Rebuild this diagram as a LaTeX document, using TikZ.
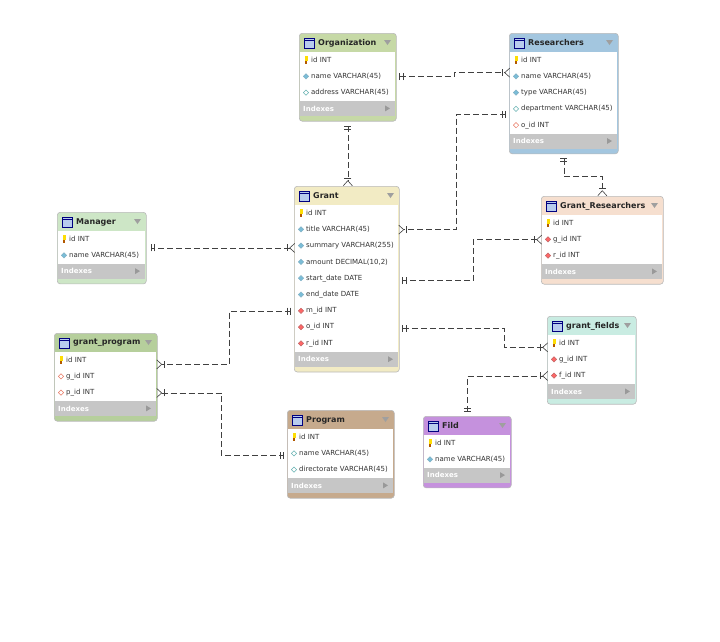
\documentclass[tikz,border=0pt]{standalone}
\usepackage{fontspec}
\setmainfont{DejaVu Sans}
\usetikzlibrary{arrows.meta,shapes.geometric,calc}
\definecolor{orgc}{HTML}{C6D9A6}
\definecolor{resc}{HTML}{A3C6DF}
\definecolor{grc}{HTML}{F2EBC4}
\definecolor{manc}{HTML}{CDE6C6}
\definecolor{grrc}{HTML}{F6DFCF}
\definecolor{gfc}{HTML}{C9ECE2}
\definecolor{gpc}{HTML}{B6CF9C}
\definecolor{prc}{HTML}{C6AA8D}
\definecolor{fic}{HTML}{C591DD}
\definecolor{linec}{HTML}{404040}
\definecolor{iconc}{HTML}{B8CCEE}
\tikzset{
  one/.tip={Bar[width=7pt,sep=2.5pt]Bar[width=7pt,sep=4pt]},
  many/.tip={Bar[width=7pt,sep=1.5pt]Straight Barb[reversed,length=5pt,width=9pt,line width=0.6pt]},
  rel/.style={draw=linec,line width=0.6pt,dash pattern=on 6pt off 3pt},
  tab/.style={draw=gray!55,rounded corners=3pt,anchor=north west,inner sep=0pt,line width=0.6pt},
  row/.style={anchor=north west,inner sep=0pt,minimum height=16.3pt},
  rtxt/.style={anchor=west,inner sep=0pt,font=\fontsize{7}{8}\selectfont,text=black!80},
  ttl/.style={anchor=west,inner sep=0pt,font=\fontsize{8}{9}\bfseries\selectfont,text=black!85},
  dia/.style={diamond,inner sep=0pt,minimum size=5.5pt,line width=0.5pt},
}
\newcommand\ertab[8]{%
  \pgfmathsetmacro\myhh{19+#6*16.3+15+5}%
  \pgfmathsetmacro\myww{#4-2}%
  \node[tab,fill=#5,minimum width=#4pt,minimum height=\myhh pt] (#1) at (#2,#3) {};
  \fill[white] (#2+0.6,#3+19) rectangle ++(#4-1.2,#6*16.3);
  \fill[gray!45] (#2+0.6,#3+19+#6*16.3) rectangle ++(#4-1.2,15);
  \node[anchor=west,inner sep=0pt,text=white,font=\fontsize{7}{8}\bfseries\selectfont] at (#2+4,#3+19+#6*16.3+7.5) {Indexes};
  \fill[gray!80] (#2+#4-11,#3+19+#6*16.3+4.5) -- ++(5,3) -- ++(-5,3) -- cycle;
  \draw[fill=iconc,draw=blue!50!black,line width=0.5pt] (#2+5,#3+5) rectangle ++(10,10);
  \draw[blue!50!black,line width=0.3pt] (#2+5,#3+7.5) -- ++(10,0);
  \node[ttl] at (#2+19,#3+10) {#7};
  \fill[gray!75] (#2+#4-12,#3+7) -- ++(7,0) -- ++(-3.5,5) -- cycle;
  \foreach[count=\i] \ic/\rt in {#8}{%
    \node[row,minimum width=\myww pt] (#1-\i) at (#2+1,#3+19+\i*16.3-16.3) {};
    \coordinate (ic) at (#2+7,#3+19+\i*16.3-8.3);
    \if\ic k\fill[yellow!80!orange] ($(ic)+(-1.5,-4)$) rectangle ($(ic)+(1.5,1)$); \fill[orange!70!black] ($(ic)+(-0.6,1)$) rectangle ($(ic)+(0.6,4)$);\fi
    \if\ic c\node[dia,fill=cyan!50!teal!60,draw=cyan!60!black!60] at (ic) {};\fi
    \if\ic o\node[dia,fill=white,draw=teal!60] at (ic) {};\fi
    \if\ic r\node[dia,fill=red!60,draw=red!60!black!60] at (ic) {};\fi
    \if\ic p\node[dia,fill=white,draw=red!50!brown!70] at (ic) {};\fi
    \node[rtxt] at (#2+12,#3+19+\i*16.3-8.3) {\rt};
  }%
}
\begin{document}
\begin{tikzpicture}[x=1pt,y=-1pt]
\useasboundingbox[fill=white] (0,0) rectangle (720,641);
\ertab{organization}{299}{33}{97}{orgc}{3}{Organization}{k/id INT,c/name VARCHAR(45),o/address VARCHAR(45)}
\ertab{researchers}{509}{33}{109}{resc}{5}{Researchers}{k/id INT,c/name VARCHAR(45),c/type VARCHAR(45),o/department VARCHAR(45),p/o\_id INT}
\ertab{grant}{294}{186}{105}{grc}{9}{Grant}{k/id INT,c/title VARCHAR(45),c/summary VARCHAR(255),c/amount DECIMAL(10{,}2),c/start\_date DATE,c/end\_date DATE,r/m\_id INT,r/o\_id INT,r/r\_id INT}
\ertab{manager}{57}{212}{89}{manc}{2}{Manager}{k/id INT,c/name VARCHAR(45)}
\ertab{gr}{541}{196}{122}{grrc}{3}{Grant\_Researchers}{k/id INT,r/g\_id INT,r/r\_id INT}
\ertab{gf}{547}{316}{89}{gfc}{3}{grant\_fields}{k/id INT,r/g\_id INT,r/f\_id INT}
\ertab{gp}{54}{333}{103}{gpc}{3}{grant\_program}{k/id INT,p/g\_id INT,p/p\_id INT}
\ertab{program}{287}{410}{107}{prc}{3}{Program}{k/id INT,o/name VARCHAR(45),o/directorate VARCHAR(45)}
\ertab{fild}{423}{416}{88}{fic}{2}{Fild}{k/id INT,c/name VARCHAR(45)}
% connectors
\draw[rel,{one}-{many}] (organization.south) -- (organization.south |- grant.north);
\draw[rel,{one}-{many}] (organization-2.east) -- ++(59,0) |- ([yshift=4pt]researchers-2.west);
\draw[rel,{one}-{many}] ([yshift=-5pt]researchers-4.west) -- ++(-54,0) |- (grant-2.east);
\draw[rel,{one}-{many}] (researchers.south) -- ++(0,22) -| (gr.north);
\draw[rel,{many}-{one}] (gr-2.west) -- ++(-69,0) |- ([yshift=-2pt]grant-5.east);
\draw[rel,{many}-{one}] ([yshift=-2pt]grant-3.west) -- ([yshift=-2pt]grant-3.west -| manager.east);
\draw[rel,{one}-{many}] (grant-7.west) -- ++(-66,0) |- ([yshift=-4pt]gp-1.east);
\draw[rel,{one}-{many}] ([yshift=-1pt]grant-8.east) -- ++(106,0) |- ([yshift=-4pt]gf-1.west);
\draw[rel,{one}-{many}] (fild.north) |- (gf-3.west);
\draw[rel,{many}-{one}] (gp-3.east) -- ++(65,0) |- ([yshift=-2pt]program-2.west);
\end{tikzpicture}
\end{document}
